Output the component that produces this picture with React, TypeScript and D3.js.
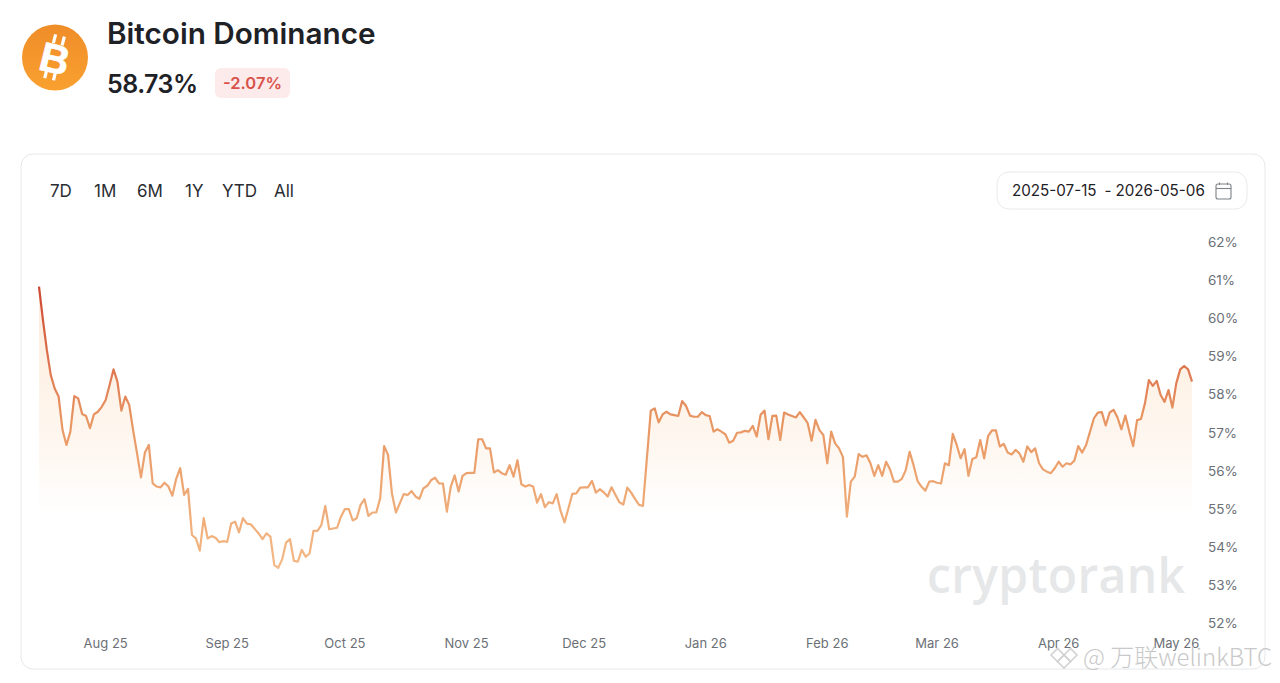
import { useRef, useEffect } from "react";
import * as d3 from "d3";

const rangeTabs = ["7D", "1M", "6M", "1Y", "YTD", "All"];
const tabX = [50, 94, 137, 185, 222, 274];
const yTicks = [52, 53, 54, 55, 56, 57, 58, 59, 60, 61, 62];
const startDate = new Date(2025, 6, 15);

// one value per day
const dominance = [
  60.83, 59.96, 59.17, 58.51, 58.16, 57.95, 57.07, 56.68, 57.03, 57.96, 57.9, 57.49, 57.44, 57.12, 57.48,
  57.55, 57.68, 57.86, 58.25, 58.66, 58.34, 57.58, 57.95, 57.73, 57.07, 56.46, 55.83, 56.48, 56.68, 55.67,
  55.59, 55.57, 55.69, 55.59, 55.35, 55.8, 56.07, 55.37, 55.53, 54.32, 54.23, 53.91, 54.76, 54.23, 54.29,
  54.25, 54.13, 54.16, 54.14, 54.62, 54.67, 54.39, 54.76, 54.62, 54.6, 54.48, 54.36, 54.21, 54.36, 54.28,
  53.53, 53.46, 53.68, 54.12, 54.21, 53.64, 53.62, 53.93, 53.75, 53.84, 54.43, 54.43, 54.58, 55.08, 54.47,
  54.49, 54.51, 54.8, 55.0, 55.0, 54.7, 54.76, 55.11, 55.26, 54.82, 54.91, 54.91, 55.28, 56.65, 56.42,
  55.41, 54.91, 55.15, 55.39, 55.37, 55.47, 55.33, 55.27, 55.54, 55.61, 55.76, 55.82, 55.67, 55.67, 54.93,
  55.59, 55.88, 55.46, 55.87, 55.94, 55.95, 55.95, 56.83, 56.83, 56.59, 56.59, 55.96, 56.02, 55.94, 55.9,
  56.15, 55.85, 56.28, 55.65, 55.59, 55.63, 55.59, 55.17, 55.39, 55.05, 55.18, 55.15, 55.39, 54.95, 54.65,
  55.02, 55.4, 55.41, 55.56, 55.57, 55.57, 55.74, 55.43, 55.52, 55.44, 55.33, 55.57, 55.37, 55.18, 55.12,
  55.56, 55.43, 55.26, 55.11, 55.08, 56.33, 57.58, 57.64, 57.27, 57.48, 57.55, 57.48, 57.46, 57.44, 57.83,
  57.7, 57.45, 57.42, 57.42, 57.54, 57.46, 57.44, 57.03, 57.09, 57.03, 56.96, 56.74, 56.79, 57.0, 57.01,
  57.05, 57.03, 57.18, 56.9, 57.47, 57.58, 56.83, 57.44, 57.45, 56.81, 57.53, 57.48, 57.44, 57.4, 57.54,
  57.4, 57.25, 56.79, 57.34, 57.07, 56.94, 56.2, 57.03, 56.72, 56.59, 56.36, 54.8, 55.72, 55.85, 56.44,
  56.37, 56.41, 56.2, 55.87, 56.15, 55.87, 56.24, 56.04, 55.72, 55.72, 55.79, 56.02, 56.5, 56.15, 55.74,
  55.59, 55.48, 55.72, 55.73, 55.69, 55.67, 56.2, 56.15, 56.97, 56.68, 56.33, 56.57, 55.87, 56.31, 56.36,
  56.81, 56.33, 56.91, 57.06, 57.06, 56.64, 56.71, 56.48, 56.43, 56.55, 56.46, 56.24, 56.64, 56.49, 56.59,
  56.2, 56.04, 55.98, 55.94, 56.07, 56.24, 56.11, 56.2, 56.17, 56.27, 56.65, 56.48, 56.68, 57.03, 57.38,
  57.53, 57.54, 57.19, 57.53, 57.6, 57.4, 57.09, 57.45, 57.03, 56.65, 57.33, 57.36, 57.77, 58.38, 58.23,
  58.36, 57.99, 57.81, 58.12, 57.66, 58.3, 58.66, 58.75, 58.66, 58.34,
];

const font = "Inter, 'Noto Sans', sans-serif";

const x = d3
  .scaleTime()
  .domain([startDate, d3.timeDay.offset(startDate, dominance.length - 1)])
  .range([39, 1192]);
const y = d3.scaleLinear().domain([52, 62]).range([623.5, 242]);

const dateOf = (_: number, i: number) => d3.timeDay.offset(startDate, i);

const line = d3
  .line<number>()
  .x((d, i) => x(dateOf(d, i)))
  .y((d) => y(d));
const area = d3
  .area<number>()
  .x((d, i) => x(dateOf(d, i)))
  .y0(y(52))
  .y1((d) => y(d));

export default function App() {
  const xAxisRef = useRef<SVGGElement>(null);
  const yAxisRef = useRef<SVGGElement>(null);

  useEffect(() => {
    const xAxis = d3
      .axisBottom(x)
      .ticks(d3.timeMonth.every(1))
      .tickSize(0)
      .tickFormat((d) => d3.timeFormat("%b %y")(d as Date));
    const yAxis = d3
      .axisRight(y)
      .tickValues(yTicks)
      .tickSize(0)
      .tickFormat((d) => `${d}%`);

    const xg = d3.select(xAxisRef.current).call(xAxis as any);
    const yg = d3.select(yAxisRef.current).call(yAxis as any);
    xg.select(".domain").remove();
    yg.select(".domain").remove();
    xg.selectAll("text").attr("fill", "#6b7076").style("font-size", "13px").style("font-family", font);
    yg.selectAll("text").attr("fill", "#6b7076").style("font-size", "13.5px").style("font-family", font);
  }, []);

  return (
    <svg width={1280} height={683} style={{ position: "absolute", left: 0, top: 0, background: "#fff" }}>
      <defs>
        <linearGradient id="coin" x1="0" y1="0" x2="0" y2="1">
          <stop offset="0%" stopColor="#ef8d29" />
          <stop offset="100%" stopColor="#f9a02f" />
        </linearGradient>
        <linearGradient id="stroke" gradientUnits="userSpaceOnUse" x1={0} x2={0} y1={y(61)} y2={y(53.5)}>
          <stop offset="0%" stopColor="#cb432f" />
          <stop offset="30%" stopColor="#de7650" />
          <stop offset="50%" stopColor="#e89763" />
          <stop offset="100%" stopColor="#f3b986" />
        </linearGradient>
        <linearGradient id="fill" gradientUnits="userSpaceOnUse" x1={0} x2={0} y1={y(61)} y2={y(54.8)}>
          <stop offset="0%" stopColor="#fdeadb" />
          <stop offset="45%" stopColor="#fef3e8" />
          <stop offset="75%" stopColor="#fef8f2" />
          <stop offset="100%" stopColor="#ffffff" />
        </linearGradient>
      </defs>

      {/* header */}
      <circle cx={55} cy={57.5} r={33} fill="url(#coin)" />
      <g transform="rotate(14 55 57.5)" stroke="#fff" strokeWidth={3.2}>
        <line x1={50} x2={50} y1={35} y2={44} />
        <line x1={59} x2={59} y1={35} y2={44} />
        <line x1={50} x2={50} y1={71} y2={80} />
        <line x1={59} x2={59} y1={71} y2={80} />
        <text x={55} y={73} textAnchor="middle" fontFamily="'Liberation Sans'" fontWeight={700} fontSize={41} fill="#fff" stroke="#fff" strokeWidth={0.6}>
          B
        </text>
      </g>
      <text x={107} y={44} fontFamily={font} fontWeight={600} fontSize={29.7} fill="#1e2126">
        Bitcoin Dominance
      </text>
      <text x={107} y={93} fontFamily={font} fontWeight={600} fontSize={25} letterSpacing={-0.5} fill="#1e2126">
        58.73%
      </text>
      <rect x={215} y={68} width={75} height={30} rx={6} fill="#fdeaea" />
      <text x={252.5} y={89} textAnchor="middle" fontFamily={font} fontWeight={600} fontSize={16.5} fill="#d8524a">
        -2.07%
      </text>

      {/* card */}
      <rect x={21} y={154} width={1244} height={515} rx={12} fill="#fff" stroke="#e6e8ea" />
      {rangeTabs.map((t, i) => (
        <text key={t} x={tabX[i]} y={197} fontFamily={font} fontSize={17} fill="#2a2d32">
          {t}
        </text>
      ))}
      <rect x={997} y={172} width={250} height={37} rx={12} fill="#fff" stroke="#e8eaec" />
      <text x={1012} y={196} fontFamily={font} fontSize={15.2} fill="#1e2126">
        2025-07-15
      </text>
      <text x={1104.5} y={196} fontFamily={font} fontSize={15.2} fill="#1e2126">
        -
      </text>
      <text x={1115.5} y={196} fontFamily={font} fontSize={15.2} fill="#1e2126">
        2026-05-06
      </text>
      <g fill="none" stroke="#7d8288" strokeWidth={1.1}>
        <rect x={1216} y={184} width={15} height={15} rx={2} />
        <line x1={1216} x2={1231} y1={188.5} y2={188.5} />
        <line x1={1219.5} x2={1219.5} y1={182.5} y2={185} />
        <line x1={1227.5} x2={1227.5} y1={182.5} y2={185} />
      </g>

      {/* plot */}
      <path d={area(dominance) ?? ""} fill="url(#fill)" />
      <text x={927} y={593} fontFamily="'Open Sans', sans-serif" fontWeight={600} fontSize={48} textLength={258} lengthAdjust="spacing" fill="#e6e7e8">
        cryptorank
      </text>
      <path d={line(dominance) ?? ""} fill="none" stroke="url(#stroke)" strokeWidth={2.2} strokeLinejoin="round" />
      <g ref={yAxisRef} transform="translate(1205,0)" />
      <g ref={xAxisRef} transform={`translate(-0.5,636)`} />

      {/* repost mark */}
      <g fill="none" stroke="#d2d2d2" strokeWidth={1.6} transform="translate(1064,655)">
        <path d="M-13,0 L-6.5,-6.5 L0,0 L-6.5,6.5 Z" />
        <path d="M0,0 L6.5,-6.5 L13,0 L6.5,6.5 Z" />
        <path d="M-6.5,6.5 L0,0 L6.5,6.5 L0,13 Z" />
      </g>
      <text x={1083} y={666} fontFamily="'Noto Sans CJK SC', sans-serif" fontWeight={300} fontSize={24} fill="#c9c9c9">
        @ 万联welinkBTC
      </text>
    </svg>
  );
}
